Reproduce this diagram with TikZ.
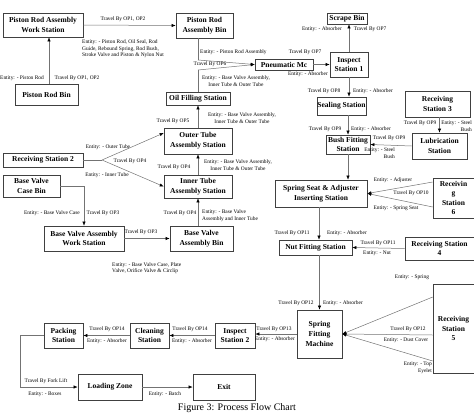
\documentclass[tikz,border=0pt]{standalone}
\usepackage{fontspec}
\setmainfont{Liberation Serif}
\usetikzlibrary{arrows.meta}

\begin{document}
\begin{tikzpicture}[x = 1pt, y = -1pt,
    box/.style 2 args = {draw = black!75, line width = 0.6pt, inner sep = 0pt, align = center,
        minimum width = #1pt, minimum height = #2pt, font = \fontsize{7.5}{9.6}\selectfont\bfseries},
    lbl/.style = {inner sep = 0pt, align = center, font = \fontsize{5.4}{6.6}\selectfont},
    line/.style = {draw = black!55, line width = 0.5pt},
    flow/.style = {line, -{Latex[length = 4pt, width = 3.2pt, color = black]}}]
    \useasboundingbox (0,0) rectangle (474,416);

    \node[box = {80}{24}] (PRW) at (43,25) {Piston Rod Assembly\\Work Station};
    \node[box = {57}{25}] (PRAB) at (204.5,25.5) {Piston Rod\\Assembly Bin};
    \node[box = {63}{21}] (PRB) at (46.5,94.5) {Piston Rod Bin};
    \node[box = {40}{11}] (SB) at (347,18.5) {Scrape Bin};
    \node[box = {38}{25}] (IS1) at (349,64.5) {Inspect\\Station 1};
    \node[box = {58}{11}] (PM) at (284,64.5) {Pneumatic Mc};
    \node[box = {64}{13}] (OFS) at (198,98.5) {Oil Filling Station};
    \node[box = {68}{26}] (OTA) at (198,141) {Outer Tube\\Assembly Station};
    \node[box = {68}{23}] (ITA) at (198,186.5) {Inner Tube\\Assembly Station};
    \node[box = {80}{14}] (RS2) at (43,160) {Receiving Station 2};
    \node[box = {57}{22}] (BVCB) at (31.5,186) {Base Valve\\Case Bin};
    \node[box = {80}{25}] (BVW) at (84,238.5) {Base Valve Assembly\\Work Station};
    \node[box = {63}{25}] (BVB) at (201.5,238.5) {Base Valve\\Assembly Bin};
    \node[box = {49}{18}] (SS) at (341.5,106) {Sealing Station};
    \node[box = {65}{26}] (RS3) at (437.5,104) {Receiving\\Station 3};
    \node[box = {55}{26}] (LS) at (439.5,146) {Lubrication\\Station};
    \node[box = {44}{19}] (BFS) at (348,144.5) {Bush Fitting\\Station};
    \node[box = {92}{27}] (SSA) at (321,193.5) {Spring Seat \& Adjuster\\Inserting Station};
    \node[box = {41}{40}] (RS6) at (453.5,198) {Receivin\\g\\Station\\6};
    \node[box = {73}{15}] (NFS) at (315.5,247.5) {Nut Fitting Station};
    \node[box = {69}{23}] (RS4) at (439.5,248.5) {Receiving Station\\4};
    \node[box = {45}{48}] (SFM) at (319.5,334) {Spring\\Fitting\\Machine};
    \node[box = {41}{89}] (RS5) at (453.5,328.5) {Receiving\\Station\\5};
    \node[box = {40}{25}] (IS2) at (235,335.5) {Inspect\\Station 2};
    \node[box = {39}{25}] (CS) at (149.5,335.5) {Cleaning\\Station};
    \node[box = {39}{25}] (PS) at (63.5,335.5) {Packing\\Station};
    \node[box = {64}{26}] (LZ) at (110,387) {Loading Zone};
    \node[box = {62}{26}] (EX) at (224,387) {Exit};

    \coordinate (J1) at (198,60);
    \coordinate (J2) at (198,70);
    \coordinate (J3) at (102,160);

    \draw[flow] ([xshift = 2.5pt]PRB.north) -- ([xshift = 2.5pt]PRB.north |- PRW.south);
    \draw[flow] (PRW.east) -- (PRAB.west);
    \draw[line] (PRAB.south -| J1) -- (J1);
    \draw[flow] (J1) -- (PM.west);
    \draw[line] (OFS.north) -- (J2);
    \draw[flow] (J2) -- (PM.west);
    \draw[flow] (OTA.north) -- (OFS.south);
    \draw[flow] (ITA.north) -- (OTA.south);
    \draw[flow] (BVB.north -| ITA.south) -- (ITA.south);
    \draw[line] (RS2.east) -- (J3);
    \draw[flow] (J3) -- ([yshift = 8pt]OTA.west);
    \draw[flow] (J3) -- (ITA.west);
    \draw[flow] (BVCB.east) -| (BVW.north);
    \draw[flow] (BVW.east) -- (BVB.west);
    \draw[flow] (IS1.north) -- (IS1.north |- SB.south);
    \draw[flow] (PM.east) -- (IS1.west);
    \draw[flow] (IS1.south) -- (IS1.south |- SS.north);
    \draw[flow] (BFS.north |- SS.south) -- (BFS.north);
    \draw[flow] (LS.north |- RS3.south) -- (LS.north);
    \draw[flow] (LS.west) -- (BFS.east);
    \draw[flow] (BFS.south) -- (BFS.south |- SSA.north);
    \draw[flow] ([yshift = 16pt]RS6.west) -- (SSA.east);
    \draw[flow] ([yshift = -9pt]RS6.west) -- (SSA.east);
    \draw[flow] ([xshift = -2pt]SSA.south) -- ([xshift = -2pt]SSA.south |- NFS.north);
    \draw[flow] (RS4.west) -- (NFS.east);
    \draw[flow] (SFM.north |- NFS.south) -- (SFM.north);
    \draw[flow] ([yshift = 31.5pt]RS5.west) -- (SFM.east);
    \draw[flow] ([yshift = -6.5pt]RS5.west) -- (SFM.east);
    \draw[flow] ([yshift = -32.5pt]RS5.west) -- (SFM.east);
    \draw[flow] (SFM.west) -- (SFM.west -| IS2.east);
    \draw[flow] (IS2.west) -- (CS.east);
    \draw[flow] (CS.west) -- (PS.east);
    \draw[flow] (PS.west) -- ++(-23,0) |- (LZ.west);
    \draw[flow] (LZ.east) -- (EX.west);

    \node[lbl] (T1) at (123,19) {Travel By OP1, OP2};
    \node[lbl, anchor = north west, align = left] (E1) at (82,39.5) {Entity: - Piston Rod, Oil Seal, Rod\\Guide, Rebound Spring, Rod Bush,\\Stroke Valve and Piston \& Nylon Nut};
    \node[lbl] (E2) at (22,78) {Entity: - Piston Rod};
    \node[lbl] (T2) at (77,78) {Travel By OP1, OP2};
    \node[lbl, anchor = west] (E3) at (200,52) {Entity: - Piston Rod Assembly};
    \node[lbl] (T3) at (210,64) {Travel By OP6};
    \node[lbl] (E4) at (236,81) {Entity: - Base Valve Assembly,\\Inner Tube \& Outer Tube};
    \node[lbl] (E5) at (322,29) {Entity: - Absorber};
    \node[lbl] (T4) at (370,29) {Travel By OP7};
    \node[lbl] (T5) at (305,52) {Travel By OP7};
    \node[lbl] (E6) at (308,74) {Entity: - Absorber};
    \node[lbl] (T6) at (324,91) {Travel By OP8};
    \node[lbl] (E7) at (373,91) {Entity: - Absorber};
    \node[lbl] (T7) at (173,121) {Travel By OP5};
    \node[lbl] (E8) at (242,118) {Entity: - Base Valve Assembly,\\Inner Tube \& Outer Tube};
    \node[lbl] (T8) at (174,167) {Travel By OP4};
    \node[lbl] (E9) at (238,165) {Entity: - Base Valve Assembly,\\Inner Tube \& Outer Tube};
    \node[lbl] (E10) at (108,147) {Entity: - Outer Tube};
    \node[lbl] (T9) at (130,161) {Travel By OP4};
    \node[lbl] (E11) at (107,175) {Entity: - Inner Tube};
    \node[lbl] (E12) at (52,213) {Entity: - Base Valve Case};
    \node[lbl] (T10) at (103,213) {Travel By OP3};
    \node[lbl] (T11) at (141,232) {Travel By OP3};
    \node[lbl, anchor = west, align = left] (E13) at (112,268) {Entity: - Base Valve Case, Plate\\Valve, Orifice Valve \& Circlip};
    \node[lbl] (T12) at (180,213) {Travel By OP4};
    \node[lbl, anchor = west, align = left] (E14) at (202,216) {Entity: - Base Valve\\Assembly and Inner Tube};
    \node[lbl] (T13) at (420,123) {Travel By OP9};
    \node[lbl, anchor = east, align = right] (E15) at (472,126) {Entity: - Steel\\Bush};
    \node[lbl] (T14) at (325,129) {Travel By OP9};
    \node[lbl] (E16) at (371,129) {Entity: - Absorber};
    \node[lbl] (T15) at (389,138) {Travel By OP9};
    \node[lbl, anchor = east, align = right] (E17) at (395,153) {Entity: - Steel\\Bush};
    \node[lbl] (E18) at (393,180) {Entity: - Adjuster};
    \node[lbl] (T16) at (411,193) {Travel By OP10};
    \node[lbl] (E19) at (396,208) {Entity: - Spring Seat};
    \node[lbl] (T17) at (292,233) {Travel By OP11};
    \node[lbl] (E20) at (347,233) {Entity: - Absorber};
    \node[lbl] (T18) at (378,243) {Travel By OP11};
    \node[lbl, anchor = west] (E21) at (363,253) {Entity: - Nut};
    \node[lbl] (T19) at (296,303) {Travel By OP12};
    \node[lbl] (E22) at (343,303) {Entity: - Absorber};
    \node[lbl] (E23) at (412,277) {Entity: - Spring};
    \node[lbl] (T20) at (408,329) {Travel By OP12};
    \node[lbl] (E24) at (406,340) {Entity: - Dust Cover};
    \node[lbl, anchor = east, align = right] (E25) at (432,368) {Entity: - Top\\Eyelet};
    \node[lbl] (T21) at (274,329) {Travel By OP13};
    \node[lbl] (E26) at (275,339) {Entity: - Absorber};
    \node[lbl] (T22) at (190,329) {Travel By OP14};
    \node[lbl] (E27) at (192,341) {Entity: - Absorber};
    \node[lbl] (T23) at (107,329) {Travel By OP14};
    \node[lbl] (E28) at (107,341) {Entity: - Absorber};
    \node[lbl] (T24) at (46,381) {Travel By Fork Lift};
    \node[lbl] (E29) at (45,394) {Entity: - Boxes};
    \node[lbl] (E30) at (165,394) {Entity: - Batch};
    \node[inner sep = 0pt, font = \fontsize{10}{12}\selectfont] (CAP) at (237,408) {Figure 3: Process Flow Chart};
\end{tikzpicture}
\end{document}
